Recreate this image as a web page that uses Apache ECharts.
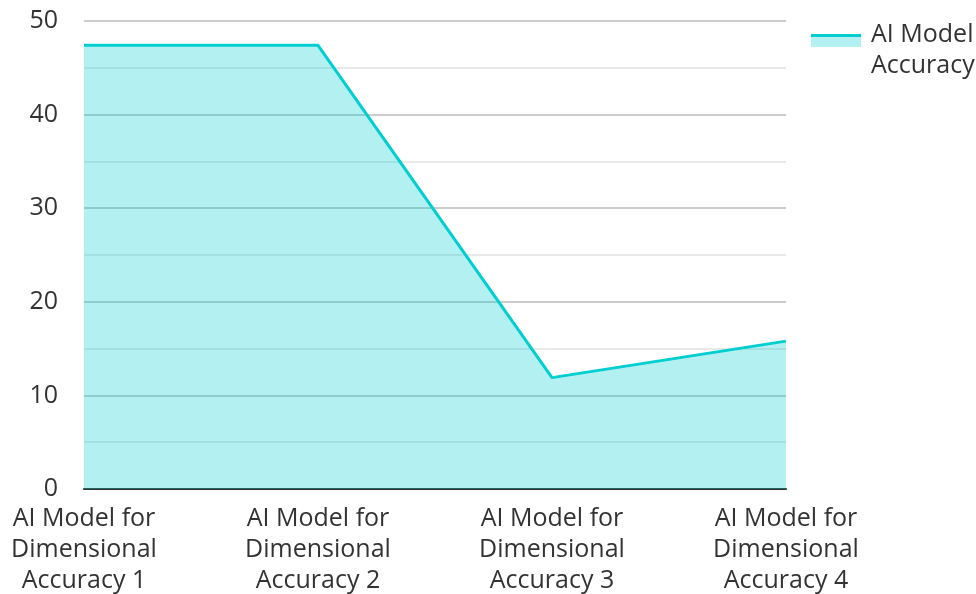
<!DOCTYPE html>
<html>
<head>
<meta charset="utf-8">
<script src="https://cdn.jsdelivr.net/npm/echarts@6/dist/echarts.min.js"></script>
<style>
  html, body { margin: 0; padding: 0; background: #ffffff; }
  #chart { width: 976px; height: 594px; }
</style>
</head>
<body>
<div id="chart"></div>
<script>
const categories = [
  "AI Model for\nDimensional\nAccuracy 1",
  "AI Model for\nDimensional\nAccuracy 2",
  "AI Model for\nDimensional\nAccuracy 3",
  "AI Model for\nDimensional\nAccuracy 4"
];
const accuracyValues = [47.4, 47.4, 11.9, 15.8];
const seriesName = "AI Model Accuracy";

const lineColor = "#00CED1";
const fontFamily = "'Open Sans', 'Noto Sans', sans-serif";

const chart = echarts.init(document.getElementById("chart"));
chart.setOption({
  animation: false,
  textStyle: { fontFamily: fontFamily },
  grid: {
    left: 84, right: 190, top: 21, bottom: 105,
    containLabel: false,
    outerBoundsMode: "none"
  },
  legend: {
    data: [seriesName],
    left: 811,
    top: 9,
    padding: 0,
    icon: "rect",
    itemWidth: 50,
    itemHeight: 13,
    itemStyle: {
      color: {
        type: "linear", x: 0, y: 0, x2: 0, y2: 1,
        colorStops: [
          { offset: 0, color: lineColor },
          { offset: 0.25, color: lineColor },
          { offset: 0.25, color: "#b2f0f1" },
          { offset: 1, color: "#b2f0f1" }
        ]
      }
    },
    // first line lines up with the icon, second wraps below
    formatter: function (name) {
      return "{s| }\n{t|AI Model}\n{t|Accuracy}";
    },
    textStyle: {
      color: "#333",
      padding: [0, 0, 0, 5],
      rich: {
        s: { fontSize: 1, lineHeight: 20 },
        t: { fontSize: 25, lineHeight: 31, color: "#333", fontFamily: fontFamily }
      }
    }
  },
  xAxis: {
    type: "category",
    data: categories,
    boundaryGap: false,
    axisLine: { lineStyle: { color: "#333", width: 2 } },
    axisTick: { show: false },
    axisLabel: {
      fontSize: 25,
      color: "#333",
      lineHeight: 31,
      margin: 14,
      interval: 0
    },
    splitLine: { show: false }
  },
  yAxis: {
    type: "value",
    min: 0,
    max: 50,
    interval: 10,
    axisLine: { show: false },
    axisTick: { show: false },
    axisLabel: { fontSize: 25, color: "#333", margin: 26, padding: [4, 0, 0, 0] },
    splitLine: { lineStyle: { color: "#ccc", width: 2 } },
    minorTick: { show: false, splitNumber: 2 },
    minorSplitLine: { show: true, lineStyle: { color: "#e8e8e8", width: 2 } }
  },
  series: [
    {
      name: seriesName,
      type: "line",
      data: accuracyValues,
      symbol: "none",
      lineStyle: { color: lineColor, width: 3 },
      itemStyle: { color: lineColor },
      areaStyle: { color: lineColor, opacity: 0.3 }
    }
  ]
});
</script>
</body>
</html>
